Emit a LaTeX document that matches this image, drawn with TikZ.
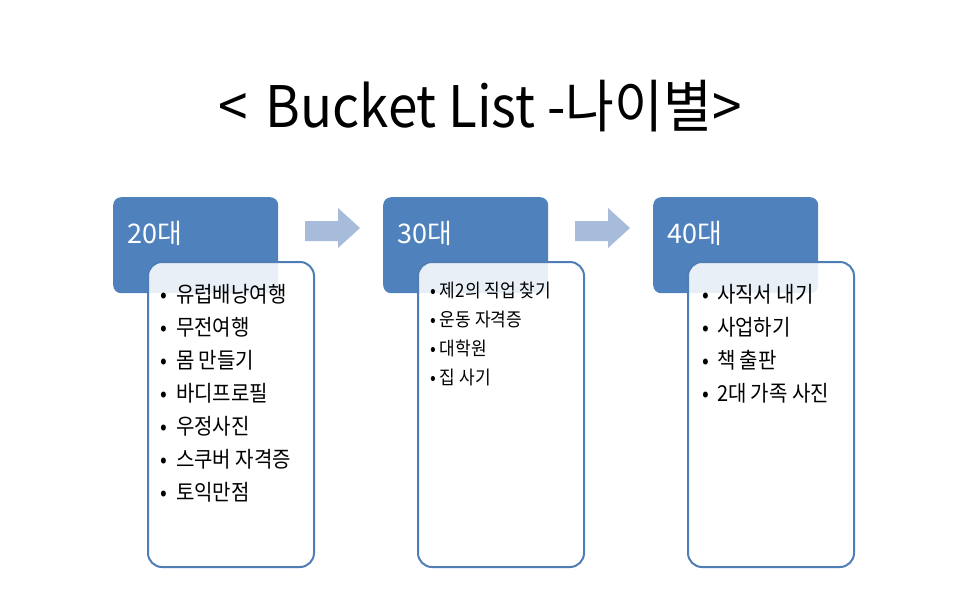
\documentclass[tikz,border=0pt]{standalone}
\usepackage{fontspec}
\setmainfont{Noto Sans CJK KR}
\definecolor{hdr}{HTML}{4F81BD}
\definecolor{bord}{HTML}{4F7DB5}
\definecolor{arr}{HTML}{A7BCDB}
\tikzset{
  hdrbox/.style={fill=hdr, rounded corners=8pt, anchor=north west, inner sep=0pt,
    minimum width=165pt, minimum height=96pt},
  hdrtxt/.style={anchor=base west, inner sep=0pt, text=white, font=\fontsize{27}{27}\selectfont},
  listbox/.style={draw=bord, line width=2pt, fill=white, fill opacity=0.88, rounded corners=14pt,
    anchor=north west, inner sep=0pt, minimum width=166pt, minimum height=305pt},
  itembig/.style={anchor=base west, inner sep=0pt, font=\fontsize{20}{20}\selectfont},
  itemsmall/.style={anchor=base west, inner sep=0pt, font=\fontsize{17}{17}\selectfont},
  arrshape/.style={fill=arr}
}
\newcommand{\tallT}[1]{\scalebox{1}[1.1]{#1}}
\begin{document}
\begin{tikzpicture}[x=1pt,y=-1pt]
\useasboundingbox (0,0) rectangle (966,598);
\fill[white] (0,0) rectangle (966,598);
% title
\node[anchor=base, inner sep=0pt, font=\fontsize{53}{53}\selectfont] (title) at (480,127) {\scalebox{1}[1.08]{<\hspace{6pt} Bucket List -나이별>}};
% boxes
\node[hdrbox] (b1) at (113,197) {};
\node[hdrbox] (b2) at (383,197) {};
\node[hdrbox] (b3) at (653,197) {};
\node[hdrtxt] (h1) at (127,243) {20대};
\node[hdrtxt] (h2) at (397,243) {30대};
\node[hdrtxt] (h3) at (667,243) {40대};
\node[listbox] (w1) at (147,261) {};
\node[listbox] (w2) at (417,261) {};
\node[listbox] (w3) at (687,261) {};
% arrows
\fill[arrshape] (305,221) -- (338,221) -- (338,208) -- (360,228) -- (338,248) -- (338,241) -- (305,241) -- cycle;
\fill[arrshape] (575,221) -- (608,221) -- (608,208) -- (630,228) -- (608,248) -- (608,241) -- (575,241) -- cycle;
% lists
\foreach \t [count=\i] in {유럽배낭여행, 무전여행, 몸 만들기, 바디프로필, 우정사진, 스쿠버 자격증, 토익만점}{
  \node[itembig] (la\i) at (160,{302+33*(\i-1)}) {\tallT{•\hspace{9pt}\t}};
}
\foreach \t [count=\i] in {제2의 직업 찾기, 운동 자격증, 대학원, 집 사기}{
  \node[itemsmall] (lb\i) at (430,{297+29*(\i-1)}) {\tallT{•\hspace{4pt}\t}};
}
\foreach \t [count=\i] in {사직서 내기, 사업하기, 책 출판, 2대 가족 사진}{
  \node[itembig] (lc\i) at (702,{302+33*(\i-1)}) {\tallT{•\hspace{8pt}\t}};
}
\end{tikzpicture}
\end{document}
